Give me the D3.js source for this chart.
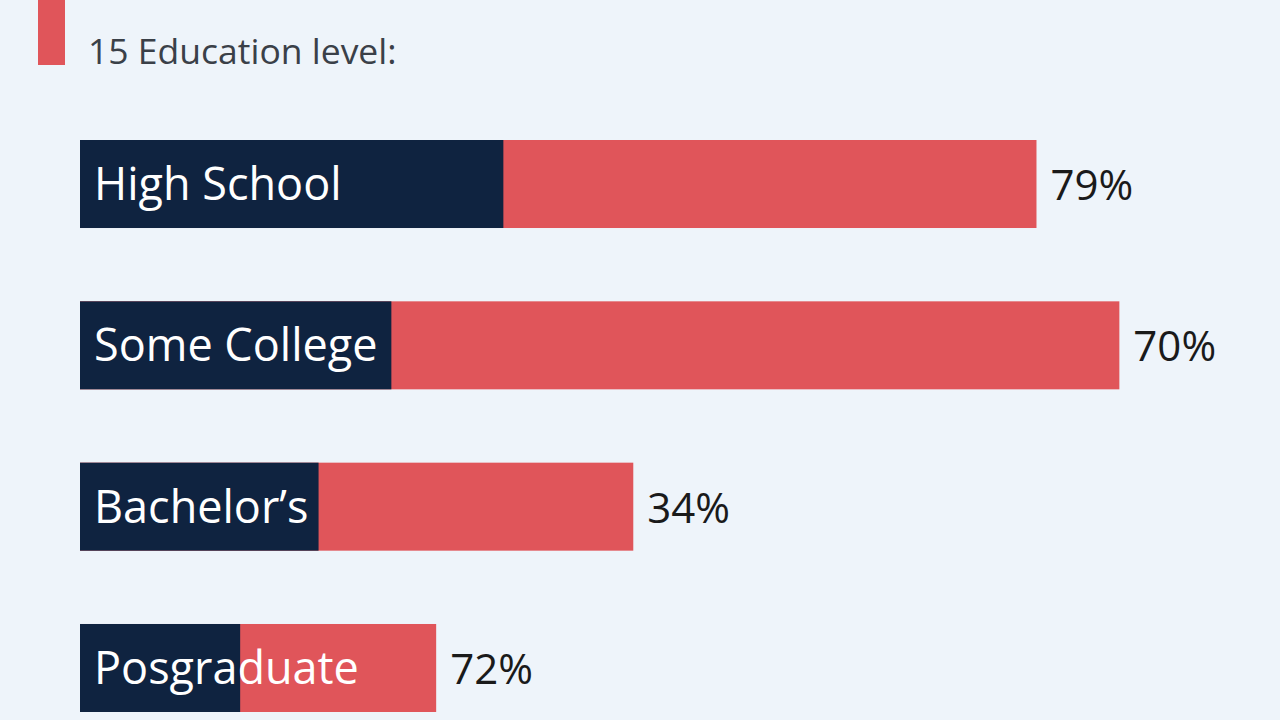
<!DOCTYPE html>
<html>
<head>
<meta charset="utf-8">
<script src="https://cdn.jsdelivr.net/npm/d3@7"></script>
<style>
  html, body { margin: 0; padding: 0; background: #eef4fa; }
  svg { display: block; }
</style>
</head>
<body>
<div id="chart"></div>
<script>
// chart data
const categories = ["High School", "Some College", "Bachelor’s", "Posgraduate"];
const darkValues = [37.8, 27.8, 21.3, 14.3];   // navy label segment
const totalValues = [85.4, 92.8, 49.4, 31.8];  // full bar (navy + red)
const valueLabels = ["79%", "70%", "34%", "72%"];
const subtitle = "15 Education level:";

const width = 1280, height = 720;
const navy = "#0f2340", red = "#e0555a";

const svg = d3.select("#chart")
    .append("svg")
    .attr("width", width)
    .attr("height", height);

svg.append("rect")
    .attr("width", width)
    .attr("height", height)
    .attr("fill", "#eef4fa");

// red accent next to the subtitle
svg.append("rect")
    .attr("x", 38).attr("y", 0)
    .attr("width", 27).attr("height", 65)
    .attr("fill", red);

svg.append("text")
    .attr("x", 88).attr("y", 64)
    .attr("font-family", "Open Sans, sans-serif")
    .attr("font-size", 35.5)
    .attr("fill", "#3a4048")
    .text(subtitle);

const x = d3.scaleLinear()
    .domain([0, 100])
    .range([80, 1200]);

const y = d3.scaleBand()
    .domain(categories)
    .range([140, 712])
    .paddingInner(0.4545)
    .paddingOuter(0);

const rows = categories.map((c, i) => ({
    cat: c, dark: darkValues[i], total: totalValues[i], label: valueLabels[i]
}));

const g = svg.append("g").attr("class", "bars");

// full red bars first, navy segment over them
g.selectAll("rect.total")
    .data(rows)
    .enter()
    .append("rect")
    .attr("class", "total")
    .attr("x", x(0))
    .attr("y", d => y(d.cat))
    .attr("width", d => x(d.total) - x(0))
    .attr("height", y.bandwidth())
    .attr("fill", red);

g.selectAll("rect.dark")
    .data(rows)
    .enter()
    .append("rect")
    .attr("class", "dark")
    .attr("x", x(0))
    .attr("y", d => y(d.cat))
    .attr("width", d => x(d.dark) - x(0))
    .attr("height", y.bandwidth())
    .attr("fill", navy);

g.selectAll("text.cat")
    .data(rows)
    .enter()
    .append("text")
    .attr("class", "cat")
    .attr("x", x(0) + 14)
    .attr("y", d => y(d.cat) + y.bandwidth() / 2 + 16)
    .attr("font-family", "Open Sans, sans-serif")
    .attr("font-size", 45)
    .attr("fill", "#ffffff")
    .text(d => d.cat);

g.selectAll("text.val")
    .data(rows)
    .enter()
    .append("text")
    .attr("class", "val")
    .attr("x", d => x(d.total) + 14)
    .attr("y", d => y(d.cat) + y.bandwidth() / 2 + 16)
    .attr("font-family", "Open Sans, sans-serif")
    .attr("font-size", 42)
    .attr("fill", "#1a1a1a")
    .text(d => d.label);
</script>
</body>
</html>
